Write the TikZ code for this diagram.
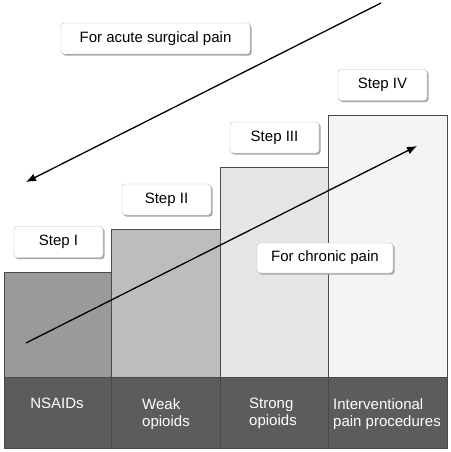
\documentclass[tikz,border=0pt]{standalone}
\usepackage{fontspec}
\setmainfont{Liberation Sans}
\usetikzlibrary{arrows.meta,shadows}
\definecolor{barA}{HTML}{9A9A9A}
\definecolor{barB}{HTML}{BDBDBD}
\definecolor{barC}{HTML}{E5E5E5}
\definecolor{barD}{HTML}{F4F4F4}
\definecolor{band}{HTML}{5C5C5C}
\definecolor{edge}{HTML}{4A4A4A}
\definecolor{boxedge}{HTML}{BBBBBB}
\definecolor{shade}{HTML}{A8A8A8}
\begin{document}
\begin{tikzpicture}[x=1pt,y=-1pt,font=\fontsize{15}{17}\selectfont,
  bar/.style={draw=edge,line width=0.9pt,inner sep=0pt,outer sep=0pt,anchor=north west},
  cell/.style={bar,fill=band},
  celltext/.style={text=white,align=left,anchor=north,inner sep=0pt},
  tag/.style={draw=boxedge,fill=white,rounded corners=3pt,inner sep=0pt,minimum height=31pt,
    drop shadow={shadow xshift=1.6pt,shadow yshift=-1.6pt,fill=shade,opacity=1}},
  arr/.style={line width=1.3pt,-{Latex[length=10pt,width=8pt]}}]
\useasboundingbox (0,0) rectangle (450,452);
\fill[white] (0,0) rectangle (450,452);
% bars
\node[bar,fill=barA,minimum width=107pt,minimum height=105pt] (b1) at (4,272) {};
\node[bar,fill=barB,minimum width=109pt,minimum height=148pt] (b2) at (111,229) {};
\node[bar,fill=barC,minimum width=108pt,minimum height=210pt] (b3) at (220,167) {};
\node[bar,fill=barD,minimum width=119pt,minimum height=262pt] (b4) at (328,115) {};
% bottom band
\node[cell,minimum width=107pt,minimum height=71pt] (c1) at (4,377) {};
\node[cell,minimum width=109pt,minimum height=71pt] (c2) at (111,377) {};
\node[cell,minimum width=108pt,minimum height=71pt] (c3) at (220,377) {};
\node[cell,minimum width=119pt,minimum height=71pt] (c4) at (328,377) {};
\node[celltext] (t1) at (57,398) {NSAIDs};
\node[celltext] (t2) at (166,398) {Weak\\opioids};
\node[celltext] (t3) at (273,398) {Strong\\opioids};
\node[celltext] (t4) at (387,398) {Interventional\\pain procedures};
% arrows
\coordinate (ca1) at (26,343);
\coordinate (ca2) at (417,146);
\draw[arr] (ca1) -- (ca2);
\coordinate (aa1) at (381,3);
\coordinate (aa2) at (26,182);
\draw[arr] (aa1) -- (aa2);
% tags
\node[tag,minimum width=189pt] (acute) at (155.5,38.5) {For acute surgical pain};
\node[tag,minimum width=89pt] (s4) at (382.5,85) {Step IV};
\node[tag,minimum width=89pt] (s3) at (274.5,137.5) {Step III};
\node[tag,minimum width=89pt] (s2) at (166.5,199.5) {Step II};
\node[tag,minimum width=89pt] (s1) at (58.5,242) {Step I};
\node[tag,minimum width=136pt,minimum height=30pt] (chronic) at (325,258) {For chronic pain};
\end{tikzpicture}
\end{document}
